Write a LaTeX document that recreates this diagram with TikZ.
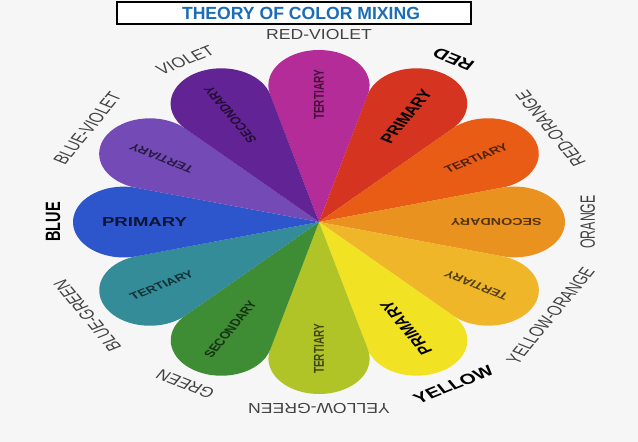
\documentclass[tikz,border=0pt]{standalone}
\usepackage{fontspec}
\usepackage{tikz,xcolor}
\setmainfont{Liberation Sans}
\newfontfamily\condsans[FakeStretch=0.85]{Liberation Sans}

\definecolor{titleblue}{RGB}{28,108,182}
\definecolor{pagegray}{RGB}{246,246,246}
\definecolor{labelgray}{RGB}{66,66,66}
\definecolor{redviolet}{RGB}{180,44,152}
\definecolor{redhue}{RGB}{212,52,32}
\definecolor{redorange}{RGB}{232,92,22}
\definecolor{orangehue}{RGB}{234,146,32}
\definecolor{yelloworange}{RGB}{240,182,42}
\definecolor{yellowhue}{RGB}{242,226,36}
\definecolor{yellowgreen}{RGB}{176,196,40}
\definecolor{greenhue}{RGB}{62,140,52}
\definecolor{bluegreen}{RGB}{52,140,152}
\definecolor{bluehue}{RGB}{46,86,204}
\definecolor{blueviolet}{RGB}{116,74,182}
\definecolor{violethue}{RGB}{98,36,148}

% one petal of the wheel: #1 angle, #2 colour
\newcommand{\petal}[2]{\fill[#2] (0,0) -- (#1-15:131.95) arc[start angle=#1-105, end angle=#1+105, radius=35.4] -- cycle;}

\begin{document}
\begin{tikzpicture}[x=1pt, y=1pt,
        hue/.style={font=\condsans\fontsize{14.5}{14.5}\selectfont, text=labelgray, inner sep=0pt},
        mainhue/.style={font=\bfseries\fontsize{14.5}{14.5}\selectfont, text=black, inner sep=0pt},
        kind/.style={font=\bfseries\fontsize{10}{10}\selectfont, inner sep=0pt},
        primary/.style={font=\bfseries\fontsize{13}{13}\selectfont, text=black, inner sep=0pt}]
    \useasboundingbox[fill=pagegray] (0,0) rectangle (638,442);

    % title box, text sits a little right of the middle
    \node[draw, fill=white, line width=1.2pt, minimum width=354pt, minimum height=22pt,
          font=\bfseries\fontsize{17.6}{17.6}\selectfont, text=titleblue] (title) at (294,429) {\hspace*{14pt}THEORY OF COLOR MIXING};

    \begin{scope}[shift={(319,220)}, xscale=1.43, every node/.append style={transform shape}]
        \petal{90}{redviolet}
        \petal{60}{redhue}
        \petal{30}{redorange}
        \petal{0}{orangehue}
        \petal{-30}{yelloworange}
        \petal{-60}{yellowhue}
        \petal{-90}{yellowgreen}
        \petal{-120}{greenhue}
        \petal{-150}{bluegreen}
        \petal{180}{bluehue}
        \petal{150}{blueviolet}
        \petal{120}{violethue}

        \node[kind, text=redviolet!35!black, rotate=90]     (rv kind) at (90:127)   {TERTIARY};
        \node[primary, rotate=60]                           (r kind)  at (60:122)   {PRIMARY};
        \node[kind, text=redorange!35!black, rotate=30]     (ro kind) at (30:127)   {TERTIARY};
        \node[kind, text=orangehue!35!black, rotate=180]    (o kind)  at (0:124)    {SECONDARY};
        \node[kind, text=yelloworange!35!black, rotate=150] (yo kind) at (-30:127)  {TERTIARY};
        \node[primary, rotate=120]                          (y kind)  at (-60:122)  {PRIMARY};
        \node[kind, text=yellowgreen!35!black, rotate=90]   (yg kind) at (-90:127)  {TERTIARY};
        \node[kind, text=greenhue!35!black, rotate=60]      (g kind)  at (-120:124) {SECONDARY};
        \node[kind, text=bluegreen!35!black, rotate=30]     (bg kind) at (-150:127) {TERTIARY};
        \node[primary, text=bluehue!25!black]               (b kind)  at (180:122)  {PRIMARY};
        \node[kind, text=blueviolet!35!black, rotate=150]   (bv kind) at (150:127)  {TERTIARY};
        \node[kind, text=violethue!35!black, rotate=120]    (v kind)  at (120:124)  {SECONDARY};

        \node[hue]                  (rv name) at (90:187)   {RED-VIOLET};
        \node[mainhue, rotate=150]  (r name)  at (60:188)   {RED};
        \node[hue, rotate=120]      (ro name) at (30:187)   {RED-ORANGE};
        \node[hue, rotate=90]       (o name)  at (0:188)    {ORANGE};
        \node[hue, rotate=60]       (yo name) at (-30:187)  {YELLOW-ORANGE};
        \node[mainhue, rotate=30]   (y name)  at (-60:188)  {YELLOW};
        \node[hue, rotate=180]      (yg name) at (-90:186)  {YELLOW-GREEN};
        \node[hue, rotate=150]      (g name)  at (-120:187) {GREEN};
        \node[hue, rotate=120]      (bg name) at (-150:187) {BLUE-GREEN};
        \node[mainhue, rotate=90]   (b name)  at (180:186)  {BLUE};
        \node[hue, rotate=60]       (bv name) at (150:187)  {BLUE-VIOLET};
        \node[hue, rotate=30]       (v name)  at (120:187)  {VIOLET};
    \end{scope}
\end{tikzpicture}
\end{document}
